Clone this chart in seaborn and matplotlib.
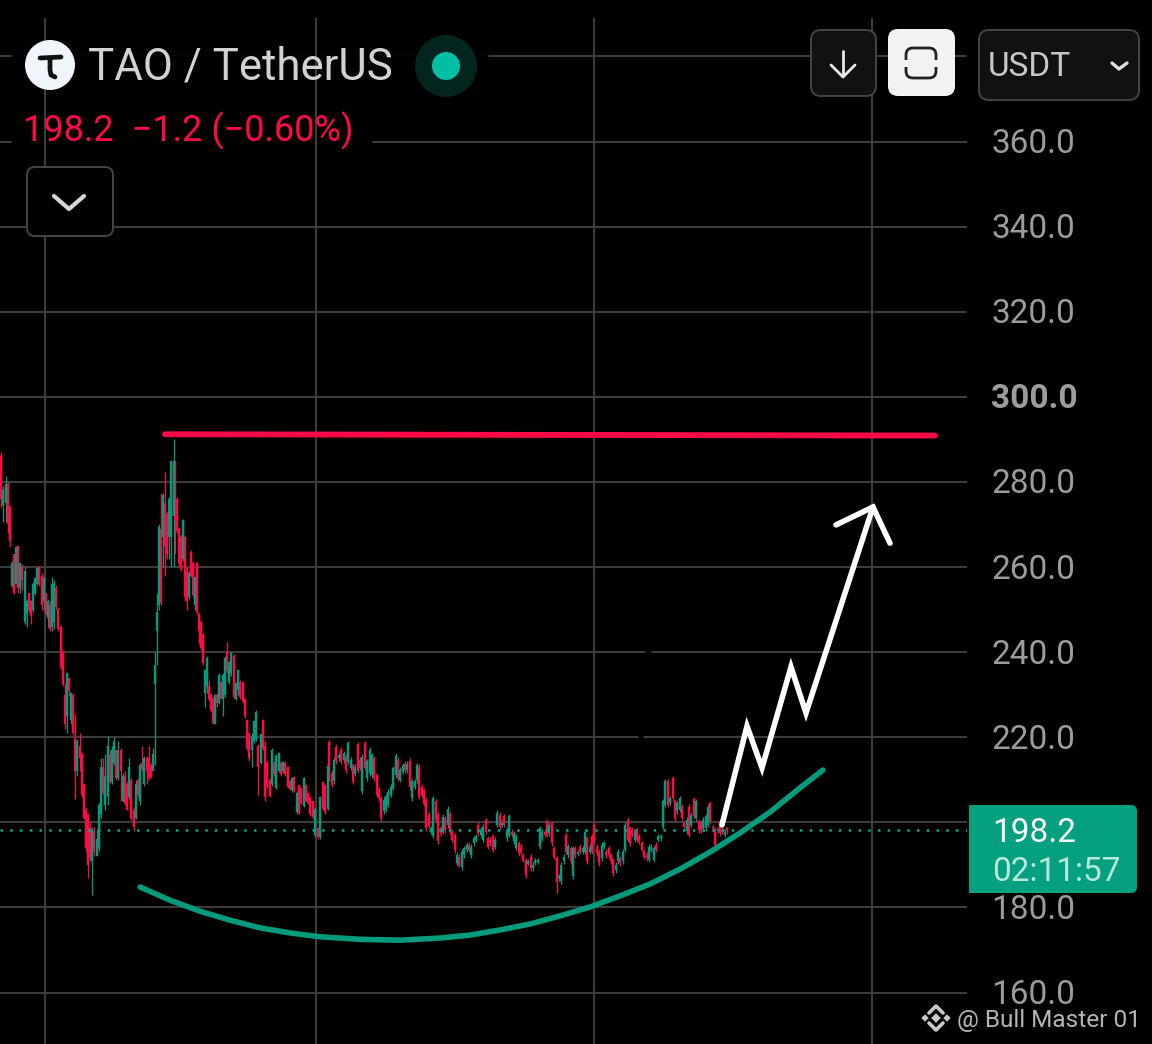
import numpy as np
import pandas as pd
import matplotlib.pyplot as plt
import seaborn as sns
from matplotlib.patches import Circle, FancyBboxPatch, Rectangle
from matplotlib.transforms import ScaledTranslation

# candles, oldest first
opens = [
    286, 274.5, 275, 279.5, 274, 255.5, 263, 256, 265, 255,
    260, 247, 249, 254, 252, 250, 254, 256, 260, 258,
    252, 254, 248, 251, 246, 247, 255, 250, 246, 240,
    230, 225, 234, 224, 230, 219.6, 212, 218, 216, 209,
    203, 202, 199, 191, 198, 192, 194, 202, 213, 204,
    206, 216, 209.5, 214, 217, 210.5, 217, 205, 211, 209,
    206, 210, 203, 201, 210, 205, 214, 209, 215, 215,
    213.5, 212, 232.6, 245, 251, 269, 267, 275, 272.5, 267,
    267, 272, 285, 276, 269, 267, 262, 267, 259, 253,
    263.5, 261, 251, 261, 249, 247, 244, 230.5, 232, 232,
    230, 229, 223, 230, 228, 233, 229, 230, 240, 233,
    235, 239, 229, 231, 233, 233, 229, 224, 221, 217,
    219, 219.5, 218, 214, 224, 218, 214, 210, 209, 214,
    208, 212, 214, 212, 214, 213, 209.7, 207.5, 210.7, 202.5,
    208.7, 208, 203.9, 208.8, 206.9, 206, 204.9, 197, 198.6, 196.6,
    209.5, 208.7, 203.2,
    218.8, 211.6, 209.6, 217.8, 215, 217, 214.6, 215.4, 214.2, 212.8,
    213.4, 211.4, 218.3, 214.7, 207.3, 218.6, 210.4, 211.6, 211.1, 215.1,
    211.1, 207.6, 205.7, 202.6, 203, 204.1, 206.5, 208.1, 211.1, 214.7,
    210, 211.9, 213.8, 212.3, 214.4, 205.7, 208.4, 209.9, 213, 208.3,
    207.5, 205.3, 201.8, 197.9, 196.8, 204.9, 201.8, 198.6, 197.8, 200.9,
    199.3, 202, 197.8, 197, 190.4, 191.9, 189.5, 192.3, 193.6, 194.7,
    192.3, 195.1, 195.9, 199.4, 197.1, 195.9, 200.5, 196.3, 195.9, 196.7,
    194.3, 199.4, 201.8, 199.4, 201.4, 196.3, 197.1, 197.8, 195.5, 194,
    195.1, 194.3, 192.3, 191.1, 190.3, 191.9, 189.2, 190.4, 190.6, 194.3,
    196.3, 197.8, 200.2, 197.5, 199.8, 193.9, 191.6, 186.8, 186.1, 190.8,
    197.1, 192.3, 193.9, 187.3, 193.9, 192.5, 194.3, 193.1, 193.1, 196.3,
    193.1, 196.7, 199.4, 194.3, 193.1, 191.6, 194.3, 193.1, 193.9, 192.3,
    191.1, 188.8, 190.8, 191.6, 190.8, 193.6, 200.6, 198.6, 198.2, 195.9,
    198.2, 196.7, 195.1, 193.1, 192.4, 191.2, 193.6, 191.2, 194.7, 195.9,
    196.3, 199, 204.1, 209.6, 204.6, 210.4, 204.9, 202.6, 203, 203.7,
    199.8, 197.9, 203.7, 199.4, 205.4, 201, 200.2, 199.8, 198.6, 198.6,
    199.4, 204.5, 199, 198.2, 198, 200.2, 198.2, 197, 198.6,
]
highs = [
    287, 279, 281.5, 280, 274.5, 261.5, 263, 265, 265.1, 261.2,
    260.7, 260, 252.5, 254, 252.2, 256.5, 257.7, 260, 260, 258.5,
    258, 254, 252.5, 252, 257.7, 256.9, 255.8, 250.5, 246.3, 240.5,
    232.7, 235.3, 234.2, 230.7, 230.3, 225.5, 219.6, 221, 216.5, 209,
    203.5, 202, 200, 199, 199, 198.5, 204.5, 215, 215, 216,
    220.4, 217, 218, 220, 217, 219, 217.5, 211.5, 212, 209.5,
    215, 210.5, 203.5, 210, 210.5, 214, 218, 215.5, 215.5, 218,
    214, 217.5, 240, 254, 270, 277.5, 277.5, 282.3, 273, 276.5,
    285.1, 290.2, 285.2, 276.5, 269.5, 267.5, 271.4, 267.5, 260, 259,
    264, 261.5, 258, 261.2, 249.5, 247.5, 244.5, 236, 239, 233.5,
    230.5, 229.5, 230.2, 230.3, 235, 233.2, 235, 239, 242.3, 238,
    240, 239.5, 233, 236, 233.5, 233.2, 229.2, 224.2, 221.2, 221,
    224, 226.3, 218.3, 221, 224.3, 219, 214.3, 210.5, 217.5, 214.3,
    216, 216.5, 214.3, 214.5, 214.3, 213.3, 209.9, 210.6, 211, 207.4,
    209, 208.2, 210.6, 209, 207.1, 206.3, 205.1, 203.6, 198.9, 206.3,
    209.8, 209, 213.7,
    219.4, 212.2, 215.3, 218.4, 216.4, 217.6, 216.8, 216, 219.2, 215.3,
    214, 213.6, 218.9, 215.3, 216, 219.2, 214.9, 217.6, 216.4, 215.7,
    211.7, 208.2, 206.3, 205.9, 206.7, 207.8, 209, 213.3, 216.2, 215.3,
    212.9, 214, 214.4, 214.4, 215, 210.2, 210.2, 214, 213.6, 208.9,
    208.1, 205.9, 202.4, 199.2, 206.3, 205.5, 202.4, 199.2, 201.9, 201.5,
    203.8, 202.6, 198.4, 197.6, 193, 192.5, 193.7, 194.5, 195.3, 195.3,
    194.9, 196.9, 197.3, 200, 198.8, 199.6, 201.1, 196.9, 196.5, 197.3,
    196.5, 202.8, 202.4, 200.4, 202, 198.8, 202, 198.4, 198, 197.3,
    195.7, 194.9, 192.9, 191.7, 191.3, 192.5, 190.6, 191.7, 191.7, 199.2,
    198.4, 198.4, 200.8, 200, 200.4, 194.5, 192.2, 187.9, 190.6, 192.5,
    197.7, 195, 194.5, 194.5, 194.5, 193.3, 194.9, 194.5, 198.4, 196.9,
    194.9, 197.3, 200, 194.9, 193.7, 195.3, 195.7, 193.7, 194.5, 192.9,
    191.7, 190.6, 193.7, 192.2, 193.7, 200, 201.2, 199.2, 198.8, 198.4,
    198.8, 197.3, 195.7, 193.7, 193, 194.9, 194.9, 194.5, 195.3, 197.3,
    197.3, 205.5, 210.2, 210.2, 206.3, 211, 205.5, 205.1, 206.3, 204.3,
    200.4, 201.2, 204.3, 202.4, 206, 205.5, 200.8, 200.4, 201.2, 202,
    204.3, 205.1, 199.6, 198.8, 198.8, 200.8, 198.8, 198.4, 198.8,
]
lows = [
    274, 270.5, 270.6, 268, 264.7, 255.3, 253.7, 256, 254, 254,
    254.5, 246.6, 245.9, 249.4, 246.7, 249.5, 253.5, 255.7, 255.5, 250,
    250, 248.8, 246, 245, 245, 245.5, 250, 245, 236, 232,
    222, 221, 229.7, 223, 220.5, 205.5, 211, 212, 206, 200.8,
    193, 187, 191, 183, 192, 192, 193.3, 201, 206.5, 203,
    204, 209, 209, 213.5, 210, 210, 205, 204.7, 204, 202.8,
    205.5, 200.5, 198, 200.8, 206, 204, 212, 208.5, 209, 210,
    210.5, 212, 213.5, 237, 250, 251, 260, 258, 262, 262,
    260, 260, 263, 268, 260, 259, 261.5, 252, 250, 252.5,
    257.6, 253, 250, 249, 242, 240.5, 237, 227, 230.5, 228.5,
    226, 223, 223, 227, 227.7, 229, 225, 229.5, 235, 232.5,
    234.5, 229, 228.7, 230, 229, 228, 224.5, 217, 214.5, 213,
    218.7, 219, 206.5, 213.7, 217, 205, 208, 206, 208.5, 211,
    207.8, 211.8, 211, 211.7, 211, 208, 207.5, 207.1, 207.1, 202,
    202, 204.3, 203.6, 204.7, 204.3, 201.6, 200.8, 196.5, 196.1, 196.1,
    202.8, 202, 202.8,
    209.8, 208.2, 209, 213.7, 214.4, 213.7, 214, 211.7, 213.6, 212.2,
    208.9, 210.8, 211.5, 212.2, 206.7, 212.2, 209.8, 211, 210.5, 209.8,
    205.9, 205.1, 200.4, 202, 202.4, 203.5, 205.9, 207.5, 210.5, 209.8,
    209.4, 211.3, 211.7, 211.7, 207.7, 205.1, 207.8, 209.3, 205.4, 205.9,
    203.8, 198, 198.6, 197.3, 196.2, 200, 195, 196.9, 197.2, 197.6,
    198.7, 197.2, 195.3, 192.9, 189.8, 189.4, 188.9, 191.7, 193, 193,
    191.7, 194.5, 195.3, 196.9, 196.5, 195.3, 197.2, 193.7, 194.5, 193,
    193.7, 198.8, 198.4, 198.8, 198.8, 195.7, 196.5, 196.5, 194.9, 193.4,
    192.2, 192.5, 190.6, 187, 190, 188.6, 188.6, 190, 190.2, 193.7,
    195.7, 196.5, 196.5, 196.9, 194.5, 191.3, 183.5, 186.3, 185.5, 190.2,
    192.5, 191.7, 190.2, 186.7, 191.7, 192.2, 192.5, 192.5, 192.5, 190.2,
    192.5, 192.5, 194.9, 192.2, 189.8, 191, 193.7, 191.7, 191.7, 190.2,
    187.4, 188.2, 190.2, 189.8, 190.2, 193, 195.3, 194.5, 196.5, 195.3,
    195.3, 194.9, 193, 191.3, 191, 190.6, 193, 190.6, 193, 195.3,
    195.7, 198.4, 203.5, 203.5, 204, 205.1, 200.4, 202, 202.4, 200.4,
    198.4, 197.3, 196.5, 198.8, 200.8, 200.4, 197.6, 197.6, 198, 198,
    198.8, 199.6, 198, 194, 197.6, 196.9, 197.2, 196.5, 197.2,
]
closes = [
    276, 278, 279.5, 270, 266, 261, 254, 264.7, 255, 261,
    257, 259, 252, 250, 248.5, 256, 257.5, 259.7, 256, 251,
    257.5, 249, 252, 245.5, 256, 256, 250.5, 245.5, 236.5, 232.5,
    223, 235, 231, 230.5, 221, 212, 219, 215, 206.5, 201,
    194, 190, 191.5, 198.5, 193, 196, 204, 213, 207, 211,
    218, 209.5, 217, 219, 210.5, 217, 212, 211, 204.5, 203,
    213, 201, 199, 209, 206.5, 213.5, 212.5, 215, 212, 210.5,
    211, 216, 236.9, 249.5, 269.5, 251.5, 277, 265, 263, 276,
    285, 285, 271, 268.5, 261, 259.5, 271, 253, 252, 258.7,
    258, 253.5, 257.7, 249.5, 245, 241, 237.5, 235.7, 238.5, 229,
    226.5, 223.3, 230, 228, 234.7, 229.3, 234.7, 238.5, 235.5, 237.7,
    239.7, 229.5, 232.7, 235.7, 229.5, 228.5, 225, 217.5, 215, 220,
    223.7, 226, 213, 220.7, 217.5, 206, 208.5, 206.3, 217, 211.3,
    215.7, 216.2, 211.3, 214.2, 211.3, 208.3, 207.8, 210.3, 207.4, 207,
    202.3, 204.6, 210.3, 205, 204.6, 202, 201.2, 203.2, 196.5, 205.9,
    203.2, 202.4, 213.3,
    210.4, 208.8, 214.7, 214.3, 215.8, 214.3, 216.2, 212.3, 218.6, 214.7,
    209.5, 213, 212.1, 212.8, 215.4, 212.8, 214.3, 217, 215.8, 210.4,
    206.5, 205.7, 201, 205.3, 206.1, 207.2, 208.4, 212.7, 215.6, 210.4,
    212.3, 213.4, 212.3, 213.8, 208.3, 209.6, 209.6, 213.4, 206, 206.5,
    204.4, 198.6, 199.2, 198.6, 205.7, 200.6, 195.6, 197.5, 201.3, 198.2,
    203.2, 197.8, 195.9, 193.5, 192.4, 190, 193.1, 193.9, 194.7, 193.6,
    194.3, 196.3, 196.7, 197.5, 198.2, 199, 197.8, 194.3, 195.1, 193.6,
    195.9, 202.2, 199, 199.8, 199.4, 198.2, 201.4, 197.1, 197.4, 196.7,
    192.8, 193.1, 191.2, 187.6, 190.9, 189.2, 190, 191.1, 191.1, 198.6,
    197.8, 197.1, 197.1, 199.4, 195.1, 191.9, 186, 187.4, 190, 191.9,
    193.1, 194.4, 190.8, 193.9, 192.3, 193, 193.1, 193.9, 197.8, 190.8,
    194.3, 193.1, 195.5, 192.8, 190.4, 194.7, 195.1, 192.3, 192.3, 190.8,
    188, 190, 193.1, 190.4, 193.1, 199.4, 195.9, 195.1, 197.1, 197.8,
    195.9, 195.5, 193.6, 191.9, 191.6, 194.3, 194.3, 193.9, 193.6, 196.7,
    196.7, 204.9, 209.6, 204.1, 205.7, 205.7, 201, 204.5, 205.7, 201,
    199, 200.6, 197.1, 201.8, 201.4, 204.9, 198.2, 198.2, 200.6, 201.4,
    203.7, 200.2, 198.6, 194.6, 198.4, 197.5, 197.8, 197.8, 198.2,
]

price_ticks = [160, 180, 200, 220, 240, 260, 280, 300, 320, 340, 360, 380]
# 200.0 and 380.0 sit behind the price tag and the USDT box, so they show no label
tick_labels = ['160.0', '180.0', '', '220.0', '240.0', '260.0', '280.0', '300.0', '320.0', '340.0', '360.0', '']
last_price = 198.2

# hand drawn lines on the chart, x in screen pixels / y in price
resist_x = [165, 935]
resist_y = [291.2, 290.9]
arc_x = [140, 170, 200, 230, 260, 290, 320, 360, 400, 440, 470, 500,
         530, 560, 590, 620, 650, 680, 710, 740, 770, 800, 823]
arc_y = [184.8, 181.7, 179.1, 177.0, 175.2, 174.0, 173.1, 172.5, 172.3, 172.8, 173.5, 174.7,
         176.1, 178.0, 180.1, 182.7, 185.5, 189.0, 193.0, 197.5, 202.4, 208.1, 212.3]
zig_x = [722, 747, 762, 791, 806, 873]
zig_y = [199.4, 222.6, 212.8, 236.5, 225.7, 274.1]
head_x = [836, 873, 890]
head_y = [269.9, 274.1, 265.6]

RED = '#FF0A47'
GREEN = '#049B7C'
GRID = '#3c3c3c'
TAG = '#04A07F'

sns.set_theme(style='dark', rc={'axes.facecolor': 'black', 'figure.facecolor': 'black'})
plt.rcParams['font.family'] = ['Roboto', 'DejaVu Sans']

fig = plt.figure(figsize=(11.52, 10.44), dpi=100)
ax = fig.add_axes([0, 0, 967 / 1152, 1])
ax.set_xlim(0, 967)
ax.set_ylim(147.9, 393.26)

df = pd.DataFrame({'open': opens, 'high': highs, 'low': lows, 'close': closes})
df['candle'] = df.index
# screen x of some candles, the ones between are spaced evenly
df['x'] = np.interp(df.index, [0, 43, 72, 81, 108, 122, 145, 152, 153, len(df) - 1],
                    [1.3, 92.3, 155.3, 173.5, 227, 258.3, 310.3, 328, 329.3, 727])
df['dir'] = np.where(df['close'] >= df['open'], 'up', 'down')

wicks = df.melt(id_vars=['candle', 'x', 'dir'], value_vars=['low', 'high'], value_name='price')
bodies = df.melt(id_vars=['candle', 'x', 'dir'], value_vars=['open', 'close'], value_name='price')
pal = {'up': GREEN, 'down': RED}

# grid
ax.set_yticks(price_ticks)
ax.set_yticklabels(tick_labels)
ax.set_xticks([])
ax.yaxis.tick_right()
ax.tick_params(axis='y', length=0, pad=17.5, labelsize=24, labelcolor='#9c9c9c')
for lab, p in zip(ax.get_yticklabels(), price_ticks):
    lab.set_va('center')
    # nudge down a bit, the app centres its digits lower
    lab.set_transform(lab.get_transform() + ScaledTranslation(0, -2.5 / 100, fig.dpi_scale_trans))
    if p == 300:
        lab.set_fontweight('bold')
ax.grid(True, axis='y', color=GRID, lw=1.5)
ax.set_axisbelow(True)
for s in ax.spines.values():
    s.set_visible(False)

# the header text blanks the grid behind it
ax.hlines([380, 360, 240, 220], [11, 11, 645, 638], [488, 372, 651, 643], color='black', lw=2, zorder=0.55)
ax.vlines([45, 316, 594, 872], 147.9, 389.0, color=GRID, lw=1.5, zorder=0.6)

sns.lineplot(data=wicks, x='x', y='price', units='candle', hue='dir', palette=pal, estimator=None,
             sort=False, lw=0.9, legend=False, ax=ax, zorder=2, solid_capstyle='butt')
sns.lineplot(data=bodies, x='x', y='price', units='candle', hue='dir', palette=pal, estimator=None,
             sort=False, lw=1.7, legend=False, ax=ax, zorder=2.1, solid_capstyle='butt')

ax.axhline(last_price, color='#0aa58a', lw=1.8, ls=(0, (1, 2.9)), zorder=3)

sns.lineplot(x=resist_x, y=resist_y, color=RED, lw=4.2, ax=ax, sort=False, zorder=4, solid_capstyle='round')
sns.lineplot(x=arc_x, y=arc_y, color=GREEN, lw=4, ax=ax, sort=False, zorder=4, solid_capstyle='round')
sns.lineplot(x=zig_x, y=zig_y, color='white', lw=4, ax=ax, sort=False, zorder=5,
             solid_capstyle='round', solid_joinstyle='miter')
sns.lineplot(x=head_x, y=head_y, color='white', lw=4, ax=ax, sort=False, zorder=5,
             solid_capstyle='round', solid_joinstyle='miter')
ax.set_xlabel('')
ax.set_ylabel('')

# app chrome on top, laid out in screen pixels
ui = fig.add_axes([0, 0, 1, 1], zorder=5)
ui.set_xlim(0, 1152)
ui.set_ylim(1044, 0)
ui.axis('off')
ui.patch.set_alpha(0)


def button(x0, y0, x1, y1, fc, ec='#444444', r=10):
    ui.add_patch(FancyBboxPatch((x0 + r, y0 + r), x1 - x0 - 2 * r, y1 - y0 - 2 * r,
                                boxstyle=f'round,pad={r},rounding_size={r}', fc=fc, ec=ec, lw=1.4))


ui.add_patch(Circle((50, 65), 25, fc='#f0f4fb', ec='none'))
ui.plot([40, 61], [58, 57], color='#111111', lw=3.4, solid_capstyle='round')
ui.plot([50, 50, 51, 55], [58, 70, 75, 77], color='#111111', lw=3.4, solid_capstyle='round')
ui.text(88, 68, 'TAO / TetherUS', color='#d2d2d2', fontsize=31.5, va='center')
ui.add_patch(Circle((446, 66), 31, fc='#03241f', ec='none'))
ui.add_patch(Circle((446, 66), 14, fc='#00bfa5', ec='none'))
ui.text(23, 131, '198.2  \u22121.2 (\u22120.60%)', color=RED, fontsize=26, va='center')

button(27, 167, 113, 236, 'black', r=8)
ui.plot([54, 69, 84], [196, 209, 196], color='#d8d8d8', lw=3, solid_capstyle='round')

button(811, 30, 876, 96, '#111111')
ui.plot([843, 843], [51, 76], color='#e8e8e8', lw=2)
ui.plot([831, 843, 855], [65, 77, 65], color='#e8e8e8', lw=2)

button(888, 29, 955, 96, '#f2f2f2', ec='none')
ui.add_patch(FancyBboxPatch((913, 55), 16, 16, boxstyle='round,pad=7,rounding_size=7', fc='none',
                            ec='#222222', lw=2))
ui.add_patch(Rectangle((903, 60), 36, 7, fc='#f2f2f2', ec='none', zorder=3))

button(979, 30, 1139, 100, '#111111')
ui.text(988, 67, 'USDT', color='#c8c8c8', fontsize=24, va='center')
ui.plot([1112, 1119, 1127], [63, 69, 63], color='#e0e0e0', lw=2.4)

# last price tag
button(969, 805, 1137, 893, TAG, ec='none', r=6)
ui.add_patch(Rectangle((969, 805), 20, 88, fc=TAG, ec='none'))
ui.text(992, 833, '198.2', color='white', fontsize=24, va='center')
ui.text(992, 872, '02:11:57', color='#b5e8dc', fontsize=24, va='center')

# watermark
ui.plot([929, 936, 943], [1013, 1006, 1013], color='#c8c8c8', lw=2.6)
ui.plot([929, 936, 943], [1023, 1030, 1023], color='#c8c8c8', lw=2.6)
ui.scatter([936, 925, 947], [1018, 1018, 1018], marker='D', s=[24, 14, 14], color='#c8c8c8', linewidths=0)
ui.text(957, 1020, '@ Bull Master 01', color='#b4b4b4', fontsize=17.6, va='center')

fig.savefig('out.png', dpi=100, facecolor='black')
